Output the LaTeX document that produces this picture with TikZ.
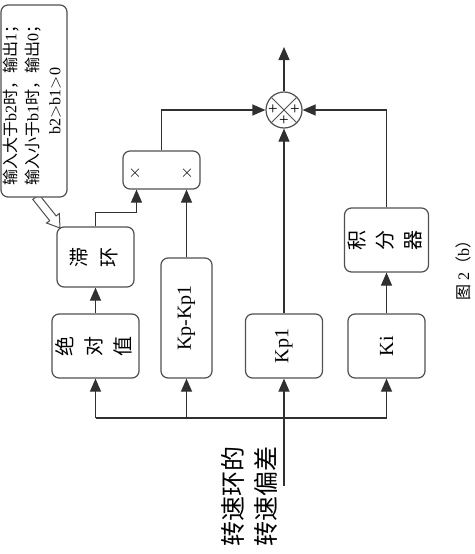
\documentclass[tikz,border=0pt]{standalone}
\usepackage{fontspec}
\usepackage{graphicx}
\setmainfont{Liberation Serif}
\newfontfamily\cjk{Noto Sans CJK SC}
\usetikzlibrary{arrows.meta,calc}
\definecolor{boxc}{HTML}{505050}
\definecolor{linec}{HTML}{303030}
\begin{document}
\begin{tikzpicture}[x=1pt,y=-1pt,
  box/.style={draw=boxc, line width=1.2pt, rounded corners=7pt, fill=white, inner sep=0pt},
  conn/.style={draw=linec, line width=1.2pt},
  arr/.style={conn, -{Triangle[length=13pt,width=11pt]}},
  sign/.style={inner sep=0pt, font=\fontsize{17}{17}\selectfont},
]
\useasboundingbox (0,0) rectangle (474,554);
\fill[white] (0,0) rectangle (474,554);

% boxes
\node[box, minimum width=77pt, minimum height=60pt] (hyst) at (95.5,257)
  {\rotatebox{90}{\cjk\fontsize{20}{30}\selectfont\begin{tabular}{@{}c@{}}滞\\环\end{tabular}}};
\node[box, minimum width=77pt, minimum height=64pt] (abs) at (95.5,346)
  {\rotatebox{90}{\cjk\fontsize{20}{29}\selectfont\begin{tabular}{@{}c@{}}绝\\对\\值\end{tabular}}};
\node[box, minimum width=51pt, minimum height=120pt] (kpd) at (186.5,318)
  {\rotatebox{90}{\fontsize{20}{20}\selectfont Kp-Kp1}};
\node[box, minimum width=77pt, minimum height=64pt] (kp1) at (284,346)
  {\rotatebox{90}{\fontsize{20}{20}\selectfont Kp1}};
\node[box, minimum width=77pt, minimum height=64pt] (ki) at (386.5,346)
  {\rotatebox{90}{\fontsize{20}{20}\selectfont Ki}};
\node[box, minimum width=77pt, minimum height=64pt] (integ) at (386.5,240)
  {\rotatebox{90}{\cjk\fontsize{20}{28}\selectfont\begin{tabular}{@{}c@{}}积\\分\\器\end{tabular}}};
\node[box, minimum width=77pt, minimum height=38pt] (mult) at (161.5,170) {};
\node[sign] (m1) at (135,173) {$\times$};
\node[sign] (m2) at (187,173) {$\times$};

% sum junction
\node[draw=boxc, line width=1.2pt, circle, minimum size=36pt, inner sep=0pt, fill=white] (sum) at (284,110) {};
\draw[boxc, line width=1pt] (sum.north west) -- (sum.south east);
\draw[boxc, line width=1pt] (sum.north east) -- (sum.south west);
\node[sign] (p1) at ($(sum.center)+(-11,0)$) {+};
\node[sign] (p2) at ($(sum.center)+(11,0)$) {+};
\node[sign] (p3) at ($(sum.center)+(0,11)$) {+};

% hollow arrow from note to hysteresis box
\draw[boxc, line width=1pt, fill=white]
  (32.8,199.4) -- (49.7,220.7) -- (46.5,223.0) -- (60,228) -- (59.3,213.6) -- (56.1,215.9) -- (39.2,194.6) -- cycle;

% note
\node[box, minimum width=58pt, minimum height=192pt] (note) at (34,101)
  {\rotatebox{90}{\fontsize{16}{22}\selectfont\begin{tabular}{@{}c@{}}
   {\cjk 输入大于}b2{\cjk 时，输出}1{\cjk ；}\\
   {\cjk 输入小于}b1{\cjk 时，输出}0{\cjk ；}\\
   b2$>$b1$>$0\end{tabular}}};

% coordinates
\coordinate (bus) at (284,418);
\coordinate (in) at (284,486);
\coordinate (out) at (284,47);

% connectors
\draw[conn] (bus -| abs) -- (bus -| ki);
\draw[arr] (bus -| abs) -- (abs.south);
\draw[arr] (bus -| kpd) -- (kpd.south);
\draw[arr] (bus -| ki) -- (ki.south);
\draw[arr] (in) -- (kp1.south);
\draw[arr] (abs.north) -- (hyst.south);
\draw[arr] (kpd.north) -- (kpd.north |- mult.south);
\draw[arr] (hyst.north) -- ($(hyst.north)+(0,-14)$) -| ([xshift=-25pt]mult.south);
\draw[arr] (mult.north) |- (sum.west);
\draw[arr] (integ.north) |- (sum.east);
\draw[arr] (kp1.north) -- (sum.south);
\draw[arr] (ki.north) -- (integ.south);
\draw[arr] (sum.north) -- (out);

% texts
\node[rotate=90, align=center, inner sep=0pt, font=\cjk\fontsize{25}{33}\selectfont] (intext) at (249,496)
  {转速环的\\转速偏差};
\node[rotate=90, inner sep=0pt, font=\fontsize{16}{16}\selectfont] (fig) at (463,266)
  {{\cjk 图} 2{\cjk （}b{\cjk ）}};
\end{tikzpicture}
\end{document}
